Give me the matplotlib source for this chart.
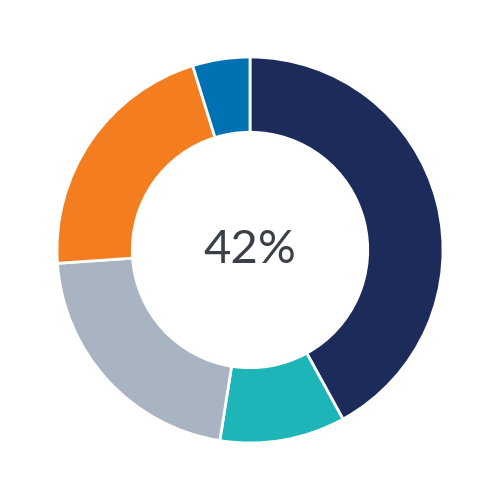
import matplotlib.pyplot as plt

labels = ['Navy', 'Teal', 'Gray', 'Orange', 'Blue']
values = [42, 10.5, 21.4, 21.3, 4.8]
colors = ['#1c2b5a', '#1db5b7', '#a9b4c2', '#f47d20', '#0072b4']
center_label = '42%'

fig = plt.figure(figsize=(5, 5), dpi=100)
ax = fig.add_axes([0, 0, 1, 1])

ax.pie(values, colors=colors, startangle=90, counterclock=False, radius=1,
       wedgeprops=dict(width=0.39, edgecolor='white', linewidth=2))
ax.text(0, 0, center_label, ha='center', va='center', fontsize=34,
        family=['Lato', 'DejaVu Sans'], fontweight='normal', color='#3b4048')

lim = 250 / 193
ax.set_xlim(-lim, lim)
ax.set_ylim(-lim, lim)
ax.set_aspect('equal')
ax.axis('off')

plt.savefig('out.png', dpi=100, facecolor='white')
